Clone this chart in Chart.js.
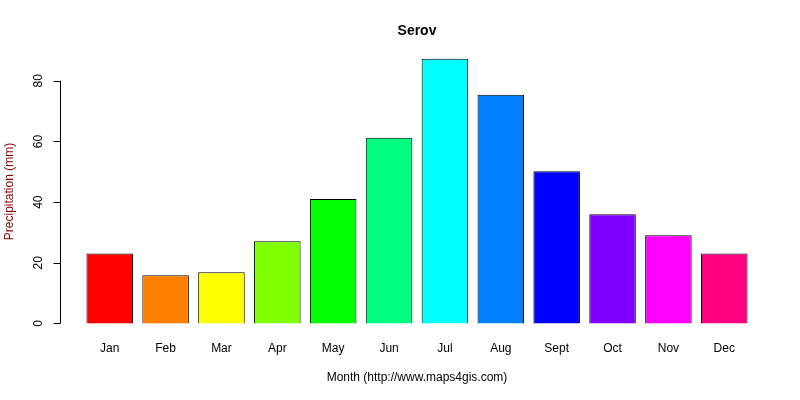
<!DOCTYPE html>
<html><head><meta charset="utf-8">
<script src="https://cdn.jsdelivr.net/npm/chart.js@4"></script>
<style>body{margin:0;background:#fff}#w{width:800px;height:400px}</style>
</head><body><div id="w"><canvas id="c"></canvas></div>
<script>
const categories=["Jan","Feb","Mar","Apr","May","Jun","Jul","Aug","Sept","Oct","Nov","Dec"];
const precipitation=[23.1,15.9,16.9,27.1,41,61.2,87.3,75.4,50.2,36,29.1,23.1];
const colors=["#FF0000","#FF8000","#FFFF00","#80FF00","#00FF00","#00FF80","#00FFFF","#0080FF","#0000FF","#8000FF","#FF00FF","#FF0080"];
const yTicks=[0,20,40,60,80];
const F="'Liberation Sans', Arial, sans-serif";
const axesPlugin={id:'rax',afterDraw(ch){
 const c=ch.ctx,x=ch.scales.x,y=ch.scales.y,a=ch.chartArea;
 c.save();c.strokeStyle='#000';c.fillStyle='#000';c.lineWidth=1;
 const L=Math.round(a.left)+0.5;
 c.beginPath();c.moveTo(L,y.getPixelForValue(0));c.lineTo(L,y.getPixelForValue(80));
 yTicks.forEach(v=>{const p=Math.round(y.getPixelForValue(v))+0.5;c.moveTo(L,p);c.lineTo(L-7,p);});
 c.stroke();
 c.font='12px '+F;c.textAlign='center';c.textBaseline='middle';
 yTicks.forEach(v=>{c.save();c.translate(L-22,y.getPixelForValue(v));c.rotate(-Math.PI/2);c.fillText(String(v),0,0);c.restore();});
 categories.forEach((m,i)=>c.fillText(m,x.getPixelForValue(i),349));
 c.fillText('Month (http://www.maps4gis.com)',(a.left+a.right)/2,378);
 c.save();c.translate(10,(a.top+a.bottom)/2);c.rotate(-Math.PI/2);c.fillStyle='#8B0000';c.fillText('Precipitation (mm)',0,0);c.restore();
 c.font='bold 14px '+F;c.fillText('Serov',(a.left+a.right)/2,31);
 c.restore();}};
new Chart(document.getElementById('c'),{type:'bar',
 data:{labels:categories,datasets:[{data:precipitation.map((v,i)=>({x:i,y:v})),backgroundColor:colors,borderColor:'#000',borderWidth:1,barPercentage:0.833,categoryPercentage:1}]},
 options:{responsive:true,maintainAspectRatio:false,animation:false,
  layout:{padding:{left:60,right:26,top:49,bottom:66}},
  plugins:{legend:{display:false},tooltip:{enabled:false}},
  scales:{x:{type:'linear',offset:false,min:-0.89,max:11.89,display:false},
          y:{min:-3.48,max:90.5,display:false}}},
 plugins:[axesPlugin]});
</script></body></html>
